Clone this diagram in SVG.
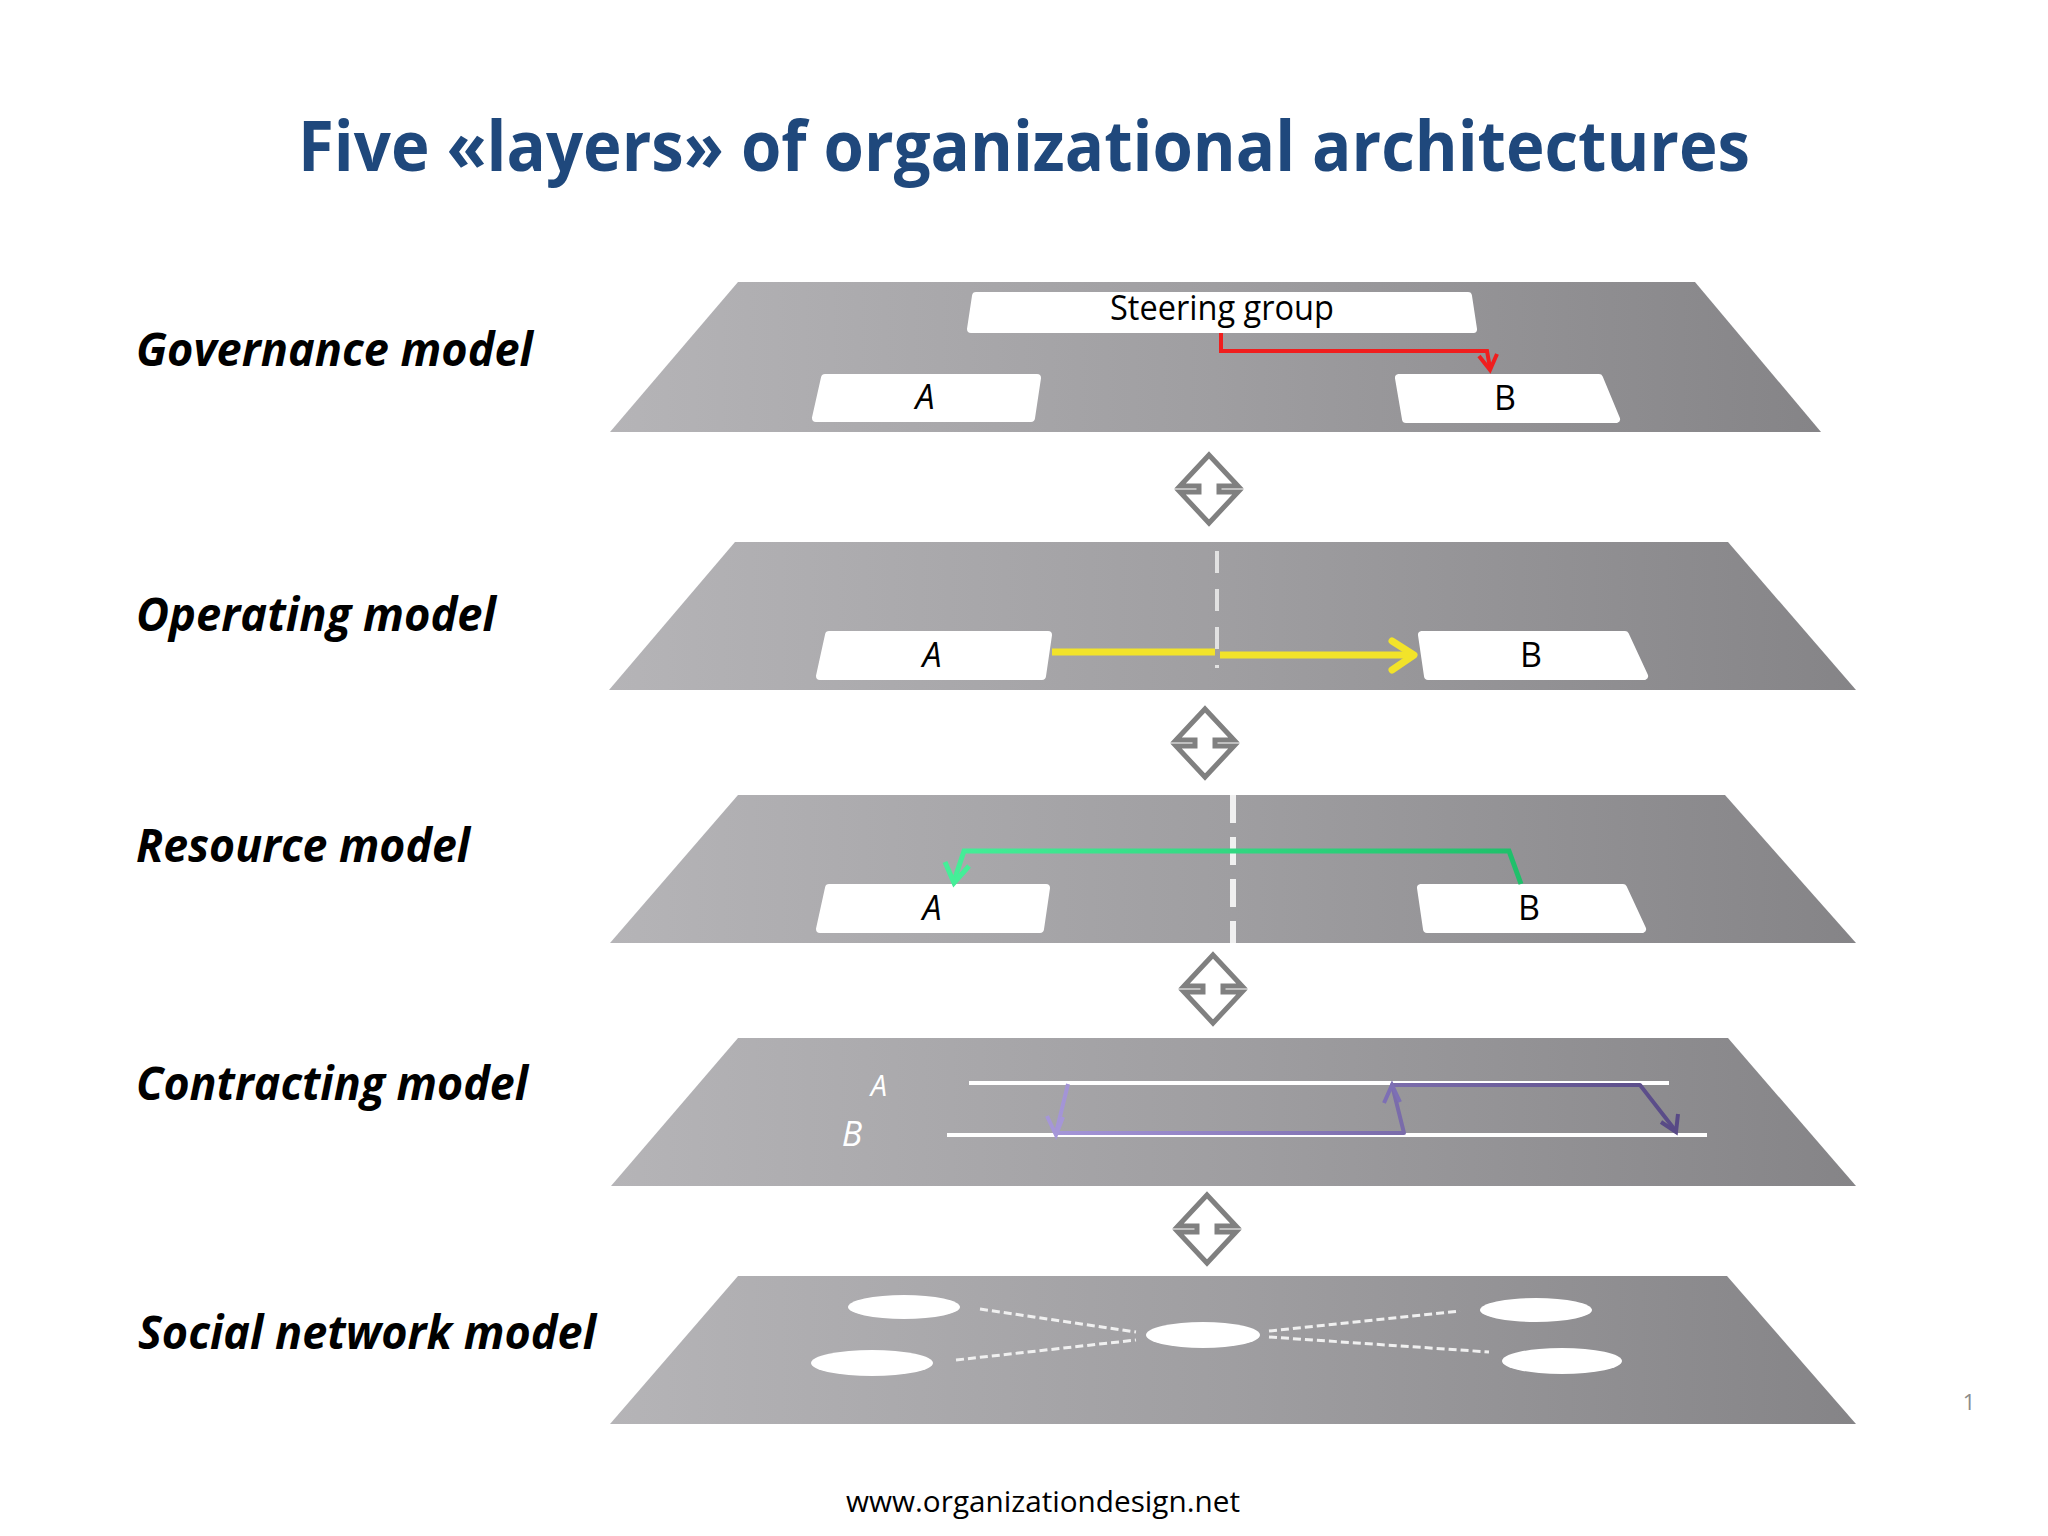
<svg xmlns="http://www.w3.org/2000/svg" width="2048" height="1536" viewBox="0 0 2048 1536">
<defs>
<linearGradient id="layerGrad" x1="0" y1="0" x2="1" y2="0">
<stop offset="0" stop-color="#b5b4b7"/>
<stop offset="0.5" stop-color="#9f9ea1"/>
<stop offset="1" stop-color="#858487"/>
</linearGradient>
<linearGradient id="greenGrad" gradientUnits="userSpaceOnUse" x1="950" y1="0" x2="1525" y2="0">
<stop offset="0" stop-color="#45ee98"/>
<stop offset="1" stop-color="#1fbf6a"/>
</linearGradient>
<linearGradient id="purpleGrad" gradientUnits="userSpaceOnUse" x1="1050" y1="0" x2="1680" y2="0">
<stop offset="0" stop-color="#a596d8"/>
<stop offset="1" stop-color="#584a86"/>
</linearGradient>
<path id="dbl" d="M0,0 L29,31 L10,31 L10,37 L29,37 L0,68 L-29,37 L-10,37 L-10,31 L-29,31 Z"/>
</defs>
<style>
.title{font-family:"Open Sans","Liberation Sans",sans-serif;font-weight:700;fill:#1f487c;}
.lbl{font-family:"Open Sans","Liberation Sans",sans-serif;font-weight:700;font-style:italic;font-size:46px;fill:#000;}
.layer{fill:url(#layerGrad);}
.box{fill:#fff;stroke:#fff;stroke-width:8;stroke-linejoin:round;}
.bt{font-family:"Open Sans","Liberation Sans",sans-serif;font-size:34px;fill:#000;text-anchor:middle;}
.dbl{fill:#fff;stroke:#808080;stroke-width:5;stroke-linejoin:miter;}
.foot{font-family:"Open Sans","Liberation Sans",sans-serif;font-size:29px;fill:#000;}
</style>
<rect width="2048" height="1536" fill="#ffffff"/>
<text class="title" x="298" y="171" font-size="70" textLength="1452" lengthAdjust="spacingAndGlyphs">Five «layers» of organizational architectures</text>

<g id="labels">
<text class="lbl" x="136" y="366" textLength="397" lengthAdjust="spacingAndGlyphs">Governance model</text>
<text class="lbl" x="136" y="631" textLength="360" lengthAdjust="spacingAndGlyphs">Operating model</text>
<text class="lbl" x="136" y="862" textLength="334" lengthAdjust="spacingAndGlyphs">Resource model</text>
<text class="lbl" x="136" y="1100" textLength="392" lengthAdjust="spacingAndGlyphs">Contracting model</text>
<text class="lbl" x="138" y="1349" textLength="458" lengthAdjust="spacingAndGlyphs">Social network model</text>
</g>

<g id="governance">
<polygon class="layer" points="738,282 1695,282 1821,432 610,432"/>
<polygon class="box" points="976,296 1468,296 1473,329 971,329"/>
<text class="bt" x="1222" y="320" font-size="21" textLength="224" lengthAdjust="spacingAndGlyphs">Steering group</text>
<polygon class="box" points="825,378 1037,378 1031,418 816,418"/>
<text class="bt" x="925" y="409" font-style="italic">A</text>
<polygon class="box" points="1399,378 1599,378 1616,419 1406,419"/>
<text class="bt" x="1505" y="410">B</text>
<path d="M1221,333 L1221,351 L1487,351 L1490,368" fill="none" stroke="#f01e1e" stroke-width="4"/>
<path d="M1479,356 L1490,370 L1497,354" fill="none" stroke="#f01e1e" stroke-width="4"/>
</g>

<g id="operating">
<polygon class="layer" points="735,542 1728,542 1856,690 609,690"/>
<line x1="1217" y1="551" x2="1217" y2="668" stroke="#e2e2e2" stroke-width="4" stroke-dasharray="22,16"/>
<polygon class="box" points="829,635 1048,635 1042,676 820,676"/>
<text class="bt" x="932" y="667" font-style="italic">A</text>
<polygon class="box" points="1422,635 1625,635 1644,676 1428,676"/>
<text class="bt" x="1531" y="667">B</text>
<path d="M1052,652 L1215,652 M1220,655 L1412,655" fill="none" stroke="#f2e32a" stroke-width="7"/>
<path d="M1392,641 L1414,655 L1392,670" fill="none" stroke="#f2e32a" stroke-width="7" stroke-linejoin="round" stroke-linecap="round"/>
</g>

<g id="resource">
<polygon class="layer" points="738,795 1725,795 1856,943 610,943"/>
<line x1="1233" y1="795" x2="1233" y2="943" stroke="#f0f0f0" stroke-width="6" stroke-dasharray="28,14"/>
<polygon class="box" points="829,888 1046,888 1040,929 820,929"/>
<text class="bt" x="932" y="920" font-style="italic">A</text>
<polygon class="box" points="1421,888 1623,888 1642,929 1427,929"/>
<text class="bt" x="1529" y="920">B</text>
<path d="M1521,884 L1509,851 L964,851 L954,881" fill="none" stroke="url(#greenGrad)" stroke-width="5"/>
<path d="M945,862 L954,883 L969,866" fill="none" stroke="#45ee98" stroke-width="5"/>
</g>

<g id="contracting">
<polygon class="layer" points="738,1038 1728,1038 1856,1186 611,1186"/>
<text x="879" y="1096" font-family="Open Sans, Liberation Sans, sans-serif" font-style="italic" font-size="29" fill="#ffffff" text-anchor="middle">A</text>
<text x="852" y="1146" font-family="Open Sans, Liberation Sans, sans-serif" font-style="italic" font-size="34" fill="#ffffff" text-anchor="middle">B</text>
<line x1="969" y1="1083" x2="1669" y2="1083" stroke="#ffffff" stroke-width="4"/>
<line x1="947" y1="1135" x2="1707" y2="1135" stroke="#ffffff" stroke-width="4"/>
<path d="M1068,1084 L1056,1133 L1404,1133 L1392,1085 L1640,1085 L1675,1130" fill="none" stroke="url(#purpleGrad)" stroke-width="4" stroke-linejoin="round"/>
<path d="M1047,1116 L1056,1135 L1063,1117" fill="none" stroke="#a596d8" stroke-width="4"/>
<path d="M1384,1103 L1392,1085 L1400,1102" fill="none" stroke="#7d6fb5" stroke-width="4"/>
<path d="M1661,1122 L1676,1132 L1678,1114" fill="none" stroke="#584a86" stroke-width="4"/>
</g>

<g id="social">
<polygon class="layer" points="738,1276 1727,1276 1856,1424 610,1424"/>
<g stroke="#f0f0f0" stroke-width="3" stroke-dasharray="8,4" fill="none">
<line x1="980" y1="1309" x2="1136" y2="1332"/>
<line x1="956" y1="1360" x2="1136" y2="1340"/>
<line x1="1269" y1="1331" x2="1460" y2="1311"/>
<line x1="1269" y1="1337" x2="1489" y2="1352"/>
</g>
<ellipse cx="904" cy="1307" rx="56" ry="12" fill="#fff"/>
<ellipse cx="872" cy="1363" rx="61" ry="13" fill="#fff"/>
<ellipse cx="1203" cy="1335" rx="57" ry="13" fill="#fff"/>
<ellipse cx="1536" cy="1310" rx="56" ry="12" fill="#fff"/>
<ellipse cx="1562" cy="1361" rx="60" ry="13" fill="#fff"/>
</g>

<g id="connectors">
<use href="#dbl" class="dbl" x="1209" y="455"/>
<use href="#dbl" class="dbl" x="1205" y="709"/>
<use href="#dbl" class="dbl" x="1213" y="955"/>
<use href="#dbl" class="dbl" x="1207" y="1195"/>
</g>

<text class="foot" x="1043" y="1512" text-anchor="middle" textLength="394" lengthAdjust="spacingAndGlyphs">www.organizationdesign.net</text>
<text x="1969" y="1410" font-family="Open Sans, Liberation Sans, sans-serif" font-size="22" fill="#8c8c8c" text-anchor="middle">1</text>
</svg>
